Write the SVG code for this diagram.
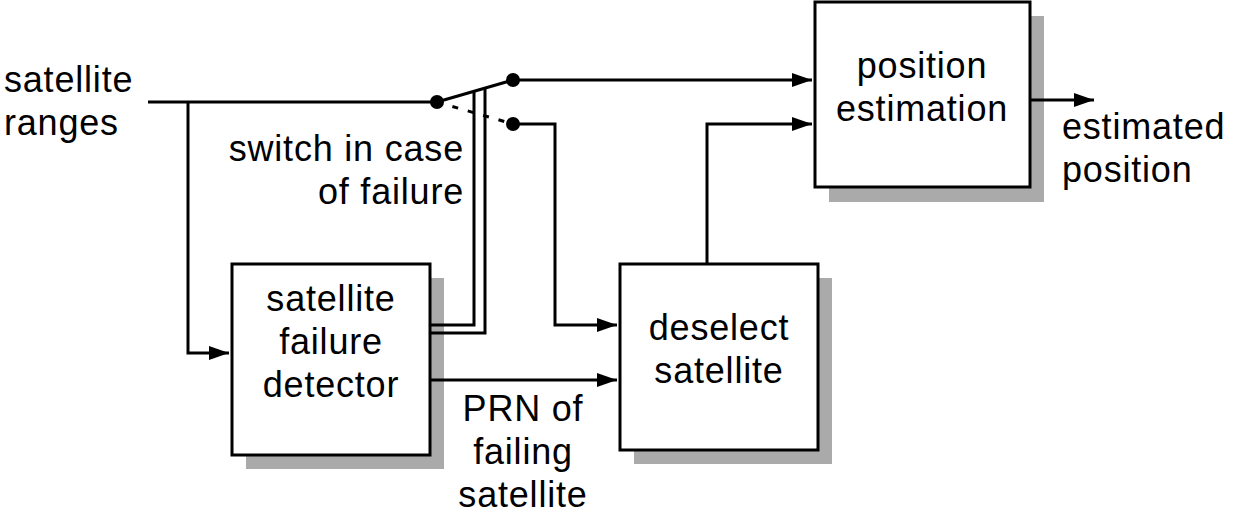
<svg xmlns="http://www.w3.org/2000/svg" width="1233" height="522" viewBox="0 0 1233 522">
<defs><marker id="ar" viewBox="0 0 20 14" refX="20" refY="7" markerWidth="20" markerHeight="14" markerUnits="userSpaceOnUse" orient="auto"><path d="M0,0 L20,7 L0,14z" fill="#000"/></marker></defs>
<style>text{font-family:"Liberation Sans",Arial,sans-serif;font-size:36px;letter-spacing:0.8px;fill:#000}.b{fill:#fff;stroke:#000;stroke-width:3}.s{fill:#aaa}.l{fill:none;stroke:#000;stroke-width:3}</style>
<rect width="1233" height="522" fill="#fff"/>
<g id="detector"><rect class="s" x="246" y="278" width="198" height="191"/><rect class="b" x="232" y="264" width="198" height="191"/>
<text x="331" y="311" text-anchor="middle">satellite</text><text x="331" y="354" text-anchor="middle">failure</text><text x="331" y="397" text-anchor="middle">detector</text></g>
<g id="deselect"><rect class="s" x="634" y="278" width="198" height="186"/><rect class="b" x="620" y="264" width="198" height="186"/>
<text x="719" y="340" text-anchor="middle">deselect</text><text x="719" y="383" text-anchor="middle">satellite</text></g>
<g id="position"><rect class="s" x="829" y="16" width="215" height="186"/><rect class="b" x="815" y="2" width="215" height="185"/>
<text x="922" y="78" text-anchor="middle">position</text><text x="922" y="121" text-anchor="middle">estimation</text></g>
<g id="labels"><text x="4" y="92">satellite</text><text x="4" y="135">ranges</text>
<text x="464" y="161" text-anchor="end">switch in case</text><text x="464" y="204" text-anchor="end">of failure</text>
<text x="1062" y="139">estimated</text><text x="1062" y="182">position</text>
<text x="523" y="421" text-anchor="middle">PRN of</text><text x="523" y="464" text-anchor="middle">failing</text><text x="523" y="507" text-anchor="middle">satellite</text></g>
<g id="connectors">
<path class="l" d="M148,102 H437"/>
<path class="l" d="M188,102 V353 H229" marker-end="url(#ar)"/>
<path class="l" d="M437,102 L513,80"/>
<path class="l" d="M437,102 L513,124" stroke-dasharray="6,10"/>
<circle cx="437" cy="102" r="7"/><circle cx="513" cy="80" r="7"/><circle cx="513" cy="124" r="7"/>
<path class="l" d="M513,80 H812" marker-end="url(#ar)"/>
<path class="l" d="M513,124 H555 V325 H617" marker-end="url(#ar)"/>
<path class="l" d="M430,325 H474 V92"/>
<path class="l" d="M430,333 H485 V89"/>
<path class="l" d="M430,380 H617" marker-end="url(#ar)"/>
<path class="l" d="M707,264 V124 H812" marker-end="url(#ar)"/>
<path class="l" d="M1030,100 H1094" marker-end="url(#ar)"/>
</g>
</svg>
